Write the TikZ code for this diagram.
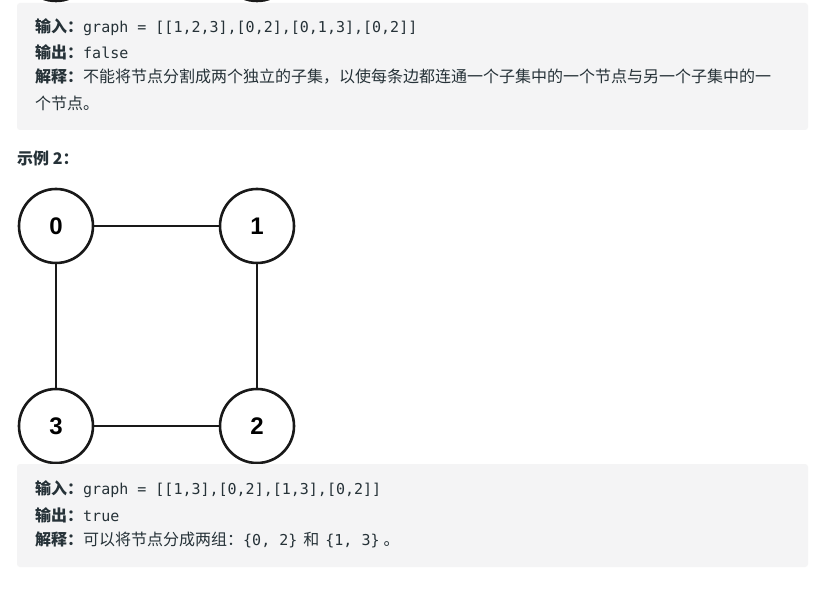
\documentclass[tikz,border=0pt]{standalone}
\usepackage{fontspec}
\setmainfont{Liberation Sans}
\setmonofont{DejaVu Sans Mono}
\newfontfamily\cjk{Noto Sans CJK SC}
\definecolor{txt}{HTML}{263238}
\definecolor{boxbg}{HTML}{F4F4F5}
\newcommand{\cjkf}{\cjk\fontsize{16}{16}\selectfont}
\newcommand{\codef}{\ttfamily\fontsize{15}{15}\selectfont}
\tikzset{
  vtx/.style={circle,draw=black!90,line width=2.6pt,minimum size=74pt,inner sep=0pt,fill=white,font=\fontsize{24}{24}\selectfont\bfseries},
  edge/.style={line width=2.2pt,black!90},
  lbl/.style={anchor=west,inner sep=0pt,text=txt,font=\fontsize{15}{15}\selectfont},
  panel/.style={fill=boxbg,rounded corners=3pt,draw=none}
}
\begin{document}
\begin{tikzpicture}[x=1pt,y=-1pt]
\useasboundingbox (0,0) rectangle (838,593);
\fill[white] (0,0) rectangle (838,593);
\begin{scope}
\clip (0,0) rectangle (838,593);
\node[vtx] (t0) at (56,-36) {};
\node[vtx] (t1) at (257,-36) {};
\end{scope}
\fill[panel] (17,3) rectangle (808,130);
\node[lbl] (a1) at (35,27) {{\cjkf\bfseries 输入：}{\codef graph = [[1,2,3],[0,2],[0,1,3],[0,2]]}};
\node[lbl] (a2) at (35,52) {{\cjkf\bfseries 输出：}{\codef false}};
\node[lbl] (a3) at (35,77) {{\cjkf\bfseries 解释：}{\cjkf 不能将节点分割成两个独立的子集，以使每条边都连通一个子集中的一个节点与另一个子集中的一}};
\node[lbl] (a4) at (35,103) {{\cjkf 个节点。}};
\node[lbl] (ex) at (17,158) {{\cjkf\bfseries 示例 2：}};
\node[vtx] (n0) at (56,226) {0};
\node[vtx] (n1) at (257,226) {1};
\node[vtx] (n2) at (257,426) {2};
\node[vtx] (n3) at (56,426) {3};
\draw[edge] (n0) -- (n1);
\draw[edge] (n1) -- (n2);
\draw[edge] (n2) -- (n3);
\draw[edge] (n3) -- (n0);
\fill[panel] (17,464) rectangle (808,567);
\node[lbl] (b1) at (35,489) {{\cjkf\bfseries 输入：}{\codef graph = [[1,3],[0,2],[1,3],[0,2]]}};
\node[lbl] (b2) at (35,515) {{\cjkf\bfseries 输出：}{\codef true}};
\node[lbl] (b3) at (35,540) {{\cjkf\bfseries 解释：}{\cjkf 可以将节点分成两组：}{\codef\{0, 2\}}\hspace{6pt}{\cjkf 和}\hspace{6pt}{\codef\{1, 3\}}\hspace{4pt}{\cjkf 。}};
\end{tikzpicture}
\end{document}
